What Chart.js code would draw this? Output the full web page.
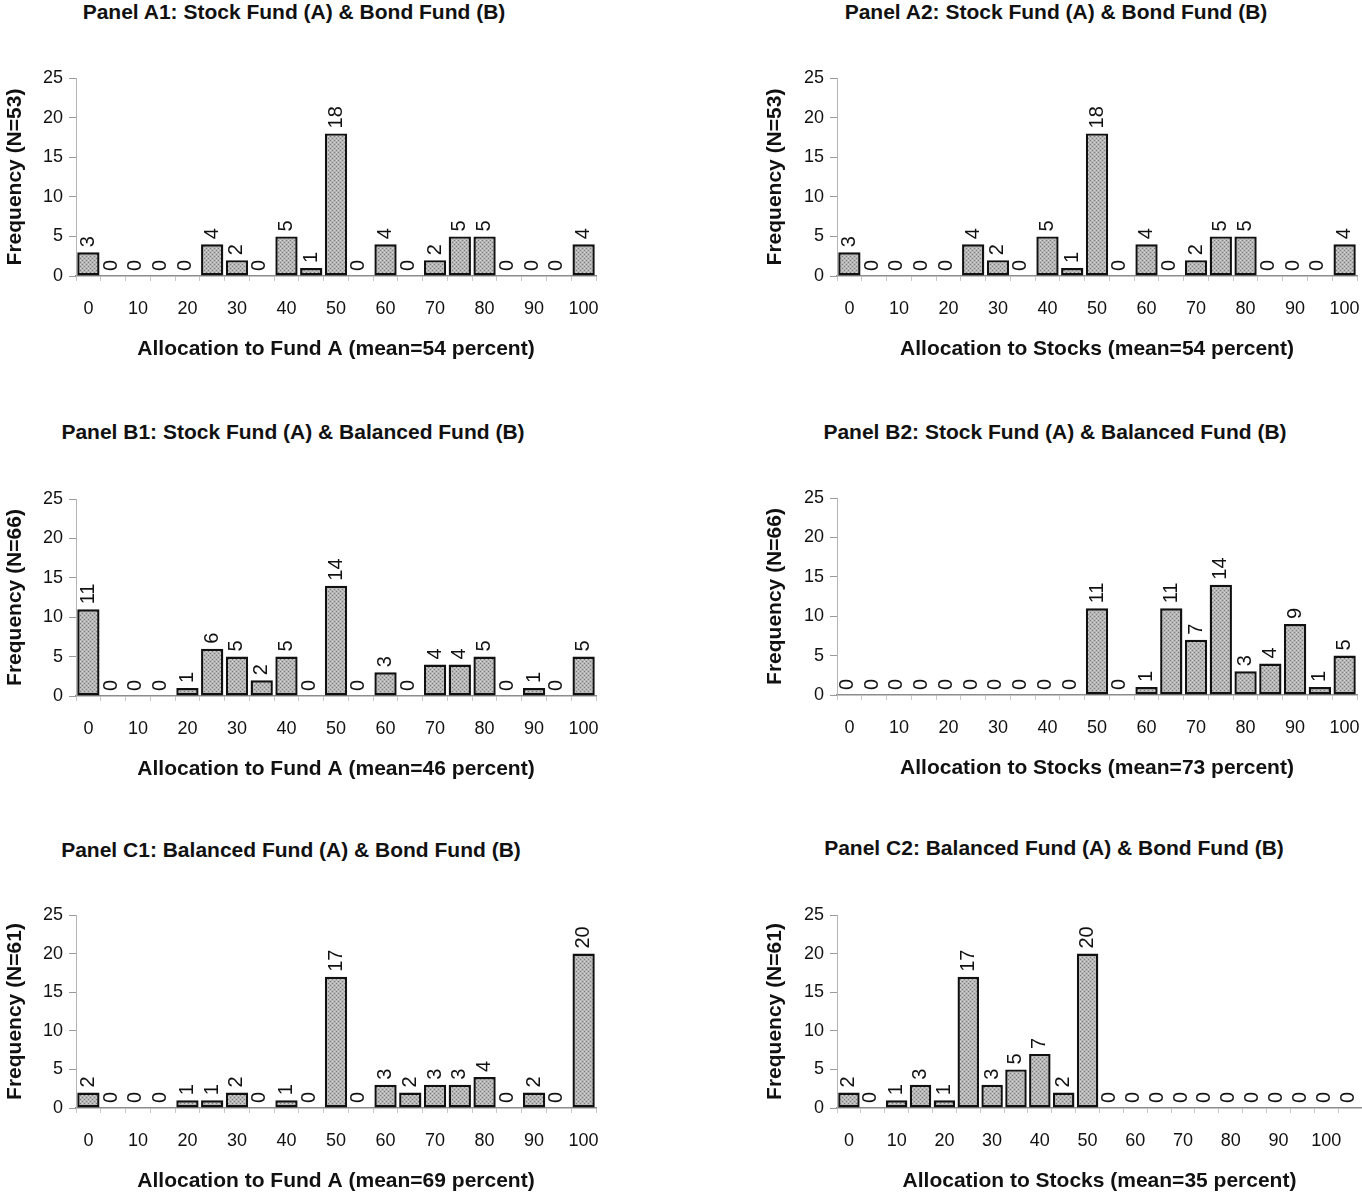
<!DOCTYPE html>
<html>
<head>
<meta charset="utf-8">
<title>Allocation histograms</title>
<script src="https://cdn.jsdelivr.net/npm/chart.js@4.4.1/dist/chart.umd.min.js"></script>
<style>
  body { margin: 0; width: 1362px; height: 1192px; position: relative; overflow: hidden; background: #fff; font-family: "Liberation Sans", Arial, sans-serif; }
  .panel-title { position: absolute; font-weight: bold; font-size: 21px; color: #111; white-space: nowrap; transform: translate(-50%, -50%); }
  canvas { position: absolute; }
</style>
</head>
<body>
<script>
// categories: allocation in steps of 5 percent
const categories = ['0', '5', '10', '15', '20', '25', '30', '35', '40', '45', '50',
  '55', '60', '65', '70', '75', '80', '85', '90', '95', '100'];
// panel C2 has one extra empty slot at the end of its axis
const categoriesC2 = ['0', '5', '10', '15', '20', '25', '30', '35', '40', '45', '50',
  '55', '60', '65', '70', '75', '80', '85', '90', '95', '100', '105'];

const freqA1 = [3, 0, 0, 0, 0, 4, 2, 0, 5, 1, 18, 0, 4, 0, 2, 5, 5, 0, 0, 0, 4];
const freqA2 = [3, 0, 0, 0, 0, 4, 2, 0, 5, 1, 18, 0, 4, 0, 2, 5, 5, 0, 0, 0, 4];
const freqB1 = [11, 0, 0, 0, 1, 6, 5, 2, 5, 0, 14, 0, 3, 0, 4, 4, 5, 0, 1, 0, 5];
const freqB2 = [0, 0, 0, 0, 0, 0, 0, 0, 0, 0, 11, 0, 1, 11, 7, 14, 3, 4, 9, 1, 5];
const freqC1 = [2, 0, 0, 0, 1, 1, 2, 0, 1, 0, 17, 0, 3, 2, 3, 3, 4, 0, 2, 0, 20];
const freqC2 = [2, 0, 1, 3, 1, 17, 3, 5, 7, 2, 20, 0, 0, 0, 0, 0, 0, 0, 0, 0, 0, 0];

const yTicks = [0, 5, 10, 15, 20, 25];

const panels = [
  { title: 'Panel A1: Stock Fund (A) & Bond Fund (B)', labels: categories, values: freqA1,
    yTitle: 'Frequency (N=53)', xTitle: 'Allocation to Fund A (mean=54 percent)' },
  { title: 'Panel A2: Stock Fund (A) & Bond Fund (B)', labels: categories, values: freqA2,
    yTitle: 'Frequency (N=53)', xTitle: 'Allocation to Stocks (mean=54 percent)' },
  { title: 'Panel B1: Stock Fund (A) & Balanced Fund (B)', labels: categories, values: freqB1,
    yTitle: 'Frequency (N=66)', xTitle: 'Allocation to Fund A (mean=46 percent)' },
  { title: 'Panel B2: Stock Fund (A) & Balanced Fund (B)', labels: categories, values: freqB2,
    yTitle: 'Frequency (N=66)', xTitle: 'Allocation to Stocks (mean=73 percent)' },
  { title: 'Panel C1: Balanced Fund (A) & Bond Fund (B)', labels: categories, values: freqC1,
    yTitle: 'Frequency (N=61)', xTitle: 'Allocation to Fund A (mean=69 percent)' },
  { title: 'Panel C2: Balanced Fund (A) & Bond Fund (B)', labels: categoriesC2, values: freqC2,
    yTitle: 'Frequency (N=61)', xTitle: 'Allocation to Stocks (mean=35 percent)' }
];

// where each panel sits on the page
const boxes = [
  { left: 0,   right: 620,  plotLeft: 76,  plotRight: 596,  plotTop: 78,  plotBottom: 276,  titleX: 294,  titleY: 12 },
  { left: 760, right: 1362, plotLeft: 837, plotRight: 1357, plotTop: 78,  plotBottom: 276,  titleX: 1056, titleY: 12 },
  { left: 0,   right: 620,  plotLeft: 76,  plotRight: 596,  plotTop: 499, plotBottom: 696,  titleX: 293,  titleY: 432 },
  { left: 760, right: 1362, plotLeft: 837, plotRight: 1357, plotTop: 498, plotBottom: 695,  titleX: 1055, titleY: 432 },
  { left: 0,   right: 620,  plotLeft: 76,  plotRight: 596,  plotTop: 915, plotBottom: 1108, titleX: 291,  titleY: 850 },
  { left: 760, right: 1362, plotLeft: 837, plotRight: 1362, plotTop: 915, plotBottom: 1108, titleX: 1054, titleY: 848 }
];

const FONT = '"Liberation Sans", Arial, sans-serif';
const INK = '#111';

// value written sideways above every bar
const valueLabels = {
  id: 'valueLabels',
  afterDatasetsDraw(chart) {
    const ctx = chart.ctx;
    const values = chart.data.datasets[0].data;
    ctx.save();
    ctx.font = '20px ' + FONT;
    ctx.fillStyle = INK;
    ctx.textAlign = 'left';
    ctx.textBaseline = 'middle';
    chart.getDatasetMeta(0).data.forEach((bar, i) => {
      ctx.save();
      ctx.translate(values[i] === 0 ? bar.x - 2 : bar.x, bar.y - 5);
      ctx.rotate(-Math.PI / 2);
      ctx.fillText(String(values[i]), 0, 0);
      ctx.restore();
    });
    ctx.restore();
  }
};

function stipple(ctx) {
  const c = document.createElement('canvas');
  c.width = 4; c.height = 4;
  const g = c.getContext('2d');
  g.fillStyle = '#b6b6b6';
  g.fillRect(0, 0, 4, 4);
  g.fillStyle = '#7c7c7c';
  g.fillRect(0, 0, 1, 1);
  g.fillRect(2, 2, 1, 1);
  g.fillStyle = '#d2d2d2';
  g.fillRect(2, 0, 1, 1);
  g.fillRect(0, 2, 1, 1);
  return ctx.createPattern(c, 'repeat');
}

function drawPanel(p, box) {
  const t = document.createElement('div');
  t.className = 'panel-title';
  t.textContent = p.title;
  t.style.left = box.titleX + 'px';
  t.style.top = box.titleY + 'px';
  document.body.appendChild(t);

  const top = box.plotTop - 40;
  const height = box.plotBottom + 90 - top;
  const width = box.right - box.left;
  const canvas = document.createElement('canvas');
  canvas.width = width;
  canvas.height = height;
  canvas.style.left = box.left + 'px';
  canvas.style.top = top + 'px';
  document.body.appendChild(canvas);
  const ctx = canvas.getContext('2d');

  new Chart(ctx, {
    type: 'bar',
    data: {
      labels: p.labels,
      datasets: [{
        data: p.values,
        backgroundColor: stipple(ctx),
        borderColor: INK,
        borderWidth: 2.4,
        borderSkipped: false,
        categoryPercentage: 1,
        barPercentage: 0.9
      }]
    },
    options: {
      responsive: false,
      animation: false,
      layout: { padding: { top: 40, right: box.right - box.plotRight, left: 0, bottom: 0 } },
      plugins: { legend: { display: false }, tooltip: { enabled: false } },
      scales: {
        x: {
          afterFit: s => {
            s.height = height - 40 - (box.plotBottom - box.plotTop);
            s.paddingLeft = 0;
            s.paddingRight = 0;
          },
          grid: { drawOnChartArea: false, drawTicks: true, tickLength: 5, color: '#c8c8c8', offset: true },
          border: { display: true, color: '#8c8c8c', width: 1.5 },
          ticks: {
            autoSkip: false, maxRotation: 0, minRotation: 0, padding: 17,
            color: INK, font: { family: FONT, size: 18 },
            callback: (v, i) => (i % 2 === 0 ? p.labels[i] : '')
          },
          title: { display: true, text: p.xTitle, color: INK,
            font: { family: FONT, size: 21, weight: 'bold' }, padding: { top: 0, bottom: 4 } }
        },
        y: {
          min: yTicks[0],
          max: yTicks[yTicks.length - 1],
          afterFit: s => { s.width = box.plotLeft - box.left; },
          ticks: { stepSize: yTicks[1] - yTicks[0], padding: 6, color: INK, font: { family: FONT, size: 18 } },
          grid: { drawOnChartArea: false, drawTicks: true, tickLength: 7, color: '#9a9a9a' },
          border: { display: true, color: '#b4b4b4', dash: [3, 3] },
          title: { display: true, text: p.yTitle, color: INK,
            font: { family: FONT, size: 21, weight: 'bold' }, padding: { top: 3, bottom: 0 } }
        }
      }
    },
    plugins: [valueLabels]
  });
}

panels.forEach((p, i) => drawPanel(p, boxes[i]));
</script>
</body>
</html>
